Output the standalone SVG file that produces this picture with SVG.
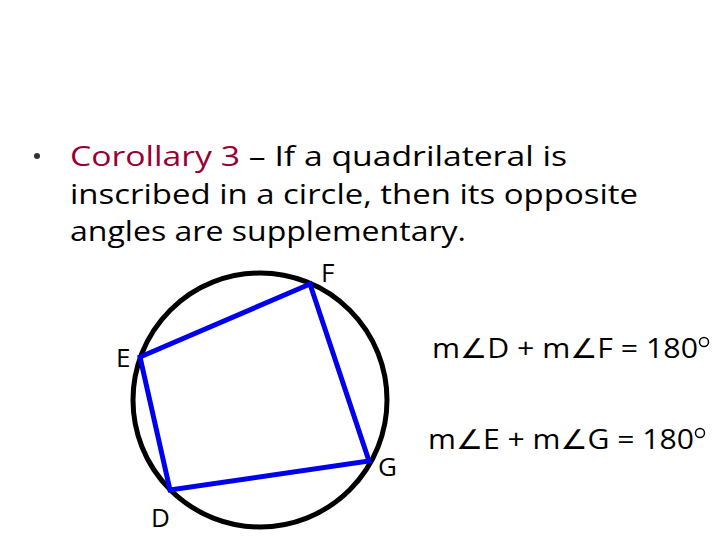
<svg xmlns="http://www.w3.org/2000/svg" width="728" height="546" viewBox="0 0 728 546">
<style>
.t{font-family:"Open Sans","DejaVu Sans",sans-serif;font-size:27px;fill:#000}
.lbl{font-family:"Open Sans","DejaVu Sans",sans-serif;font-size:26px;fill:#000}
.eq{font-family:"Open Sans","DejaVu Sans",sans-serif;font-size:27px;fill:#000}
.red{fill:#990033}
</style>
<rect width="728" height="546" fill="#fff"/>
<g id="text">
<circle cx="37" cy="156" r="3" fill="#333"/>
<text class="t" x="70" y="166" textLength="497" lengthAdjust="spacingAndGlyphs"><tspan class="red">Corollary 3</tspan> – If a quadrilateral is</text>
<text class="t" x="70" y="204" textLength="568" lengthAdjust="spacingAndGlyphs">inscribed in a circle, then its opposite</text>
<text class="t" x="70" y="241" textLength="396" lengthAdjust="spacingAndGlyphs">angles are supplementary.</text>
</g>
<g id="circle"><circle cx="260" cy="400" r="127" fill="none" stroke="#000" stroke-width="5"/></g>
<g id="connectors">
<polygon points="140,357 310,284 369,461 170,490" fill="none" stroke="#0000ee" stroke-width="5" stroke-linejoin="miter"/>
</g>
<g id="labels">
<text class="lbl" x="321" y="282">F</text>
<text class="lbl" x="116" y="367">E</text>
<text class="lbl" x="378" y="476">G</text>
<text class="lbl" x="151" y="527">D</text>
</g>
<g id="equations">
<text class="eq" x="432" y="358" textLength="266" lengthAdjust="spacingAndGlyphs">m∠D + m∠F = 180</text>
<circle cx="704" cy="342" r="4.5" fill="none" stroke="#000" stroke-width="1.5"/>
<text class="eq" x="428" y="449" textLength="266" lengthAdjust="spacingAndGlyphs">m∠E + m∠G = 180</text>
<circle cx="700" cy="433" r="4.5" fill="none" stroke="#000" stroke-width="1.5"/>
</g>
</svg>
